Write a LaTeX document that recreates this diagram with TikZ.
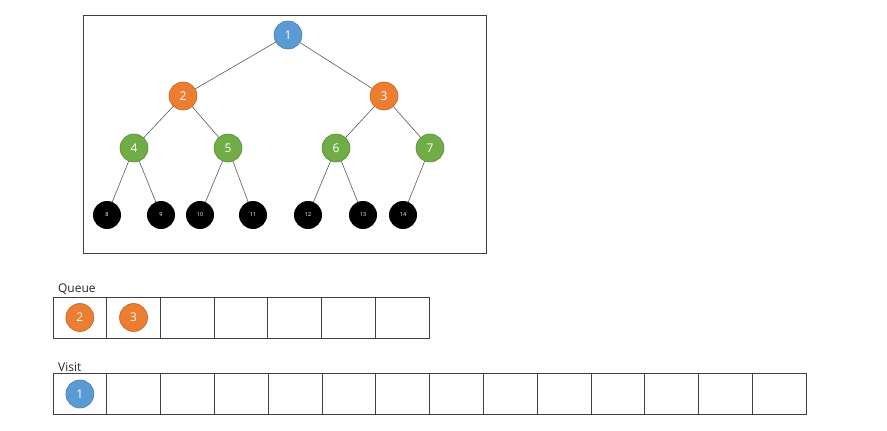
\documentclass[tikz,border=0pt]{standalone}
\usepackage{fontspec}
\setmainfont{Open Sans}
\usetikzlibrary{positioning}
\definecolor{bfsblue}{HTML}{5B9BD5}
\definecolor{bfsorange}{HTML}{ED7D31}
\definecolor{bfsgreen}{HTML}{70AD47}
\definecolor{bfsgrey}{HTML}{595959}

\begin{document}
\begin{tikzpicture}[
  x=1pt, y=-1pt,
  vertex/.style={circle, minimum size=28pt, inner sep=0pt, fill=#1, draw=#1!80!black, line width=0.6pt, text=white, font=\fontsize{12}{12}\selectfont},
  leaf/.style={circle, minimum size=28pt, inner sep=0pt, fill=black, text=white, font=\fontsize{5.5}{5.5}\selectfont},
  treeline/.style={draw=bfsgrey, line width=0.6pt},
  cell/.style={draw=black!75, line width=0.8pt, minimum width=53.8pt, minimum height=41pt, inner sep=0pt, outer sep=0pt},
  caption/.style={anchor=south west, inner sep=1pt, text=black!85, font=\fontsize{12}{12}\selectfont}
]
\useasboundingbox (0,0) rectangle (887,431);

% tree frame
\draw[draw=black!75, line width=1pt] (83,15) rectangle (486,253);

% tree
\node[vertex=bfsblue] (n1) at (288,35) {1};
\node[vertex=bfsorange] (n2) at (183,96) {2};
\node[vertex=bfsorange] (n3) at (384,96) {3};
\node[vertex=bfsgreen] (n4) at (134,148) {4};
\node[vertex=bfsgreen] (n5) at (228,148) {5};
\node[vertex=bfsgreen] (n6) at (336,148) {6};
\node[vertex=bfsgreen] (n7) at (430,148) {7};
\foreach \k/\x in {8/107, 9/161, 10/200, 11/253, 12/308, 13/363, 14/403}
  \node[leaf] (n\k) at (\x,215) {\k};

\foreach \a/\b in {1/2, 1/3, 2/4, 2/5, 3/6, 3/7, 4/8, 4/9, 5/10, 5/11, 6/12, 6/13, 7/14}
  \draw[treeline] (n\a) -- (n\b);

% queue
\foreach \i in {1,...,7}
  \node[cell] (q\i) at ({53+53.7*(\i-0.5)},317.5) {};
\node[caption] (queuelabel) at ([xshift=4pt, yshift=1pt]q1.north west) {Queue};
\node[vertex=bfsorange] (qa) at (q1) {2};
\node[vertex=bfsorange] (qb) at (q2) {3};

% visit
\foreach \i in {1,...,14}
  \node[cell] (v\i) at ({53+53.8*(\i-0.5)},394) {};
\node[caption] (visitlabel) at ([xshift=4pt, yshift=1pt]v1.north west) {Visit};
\node[vertex=bfsblue] (va) at (v1) {1};
\end{tikzpicture}
\end{document}
